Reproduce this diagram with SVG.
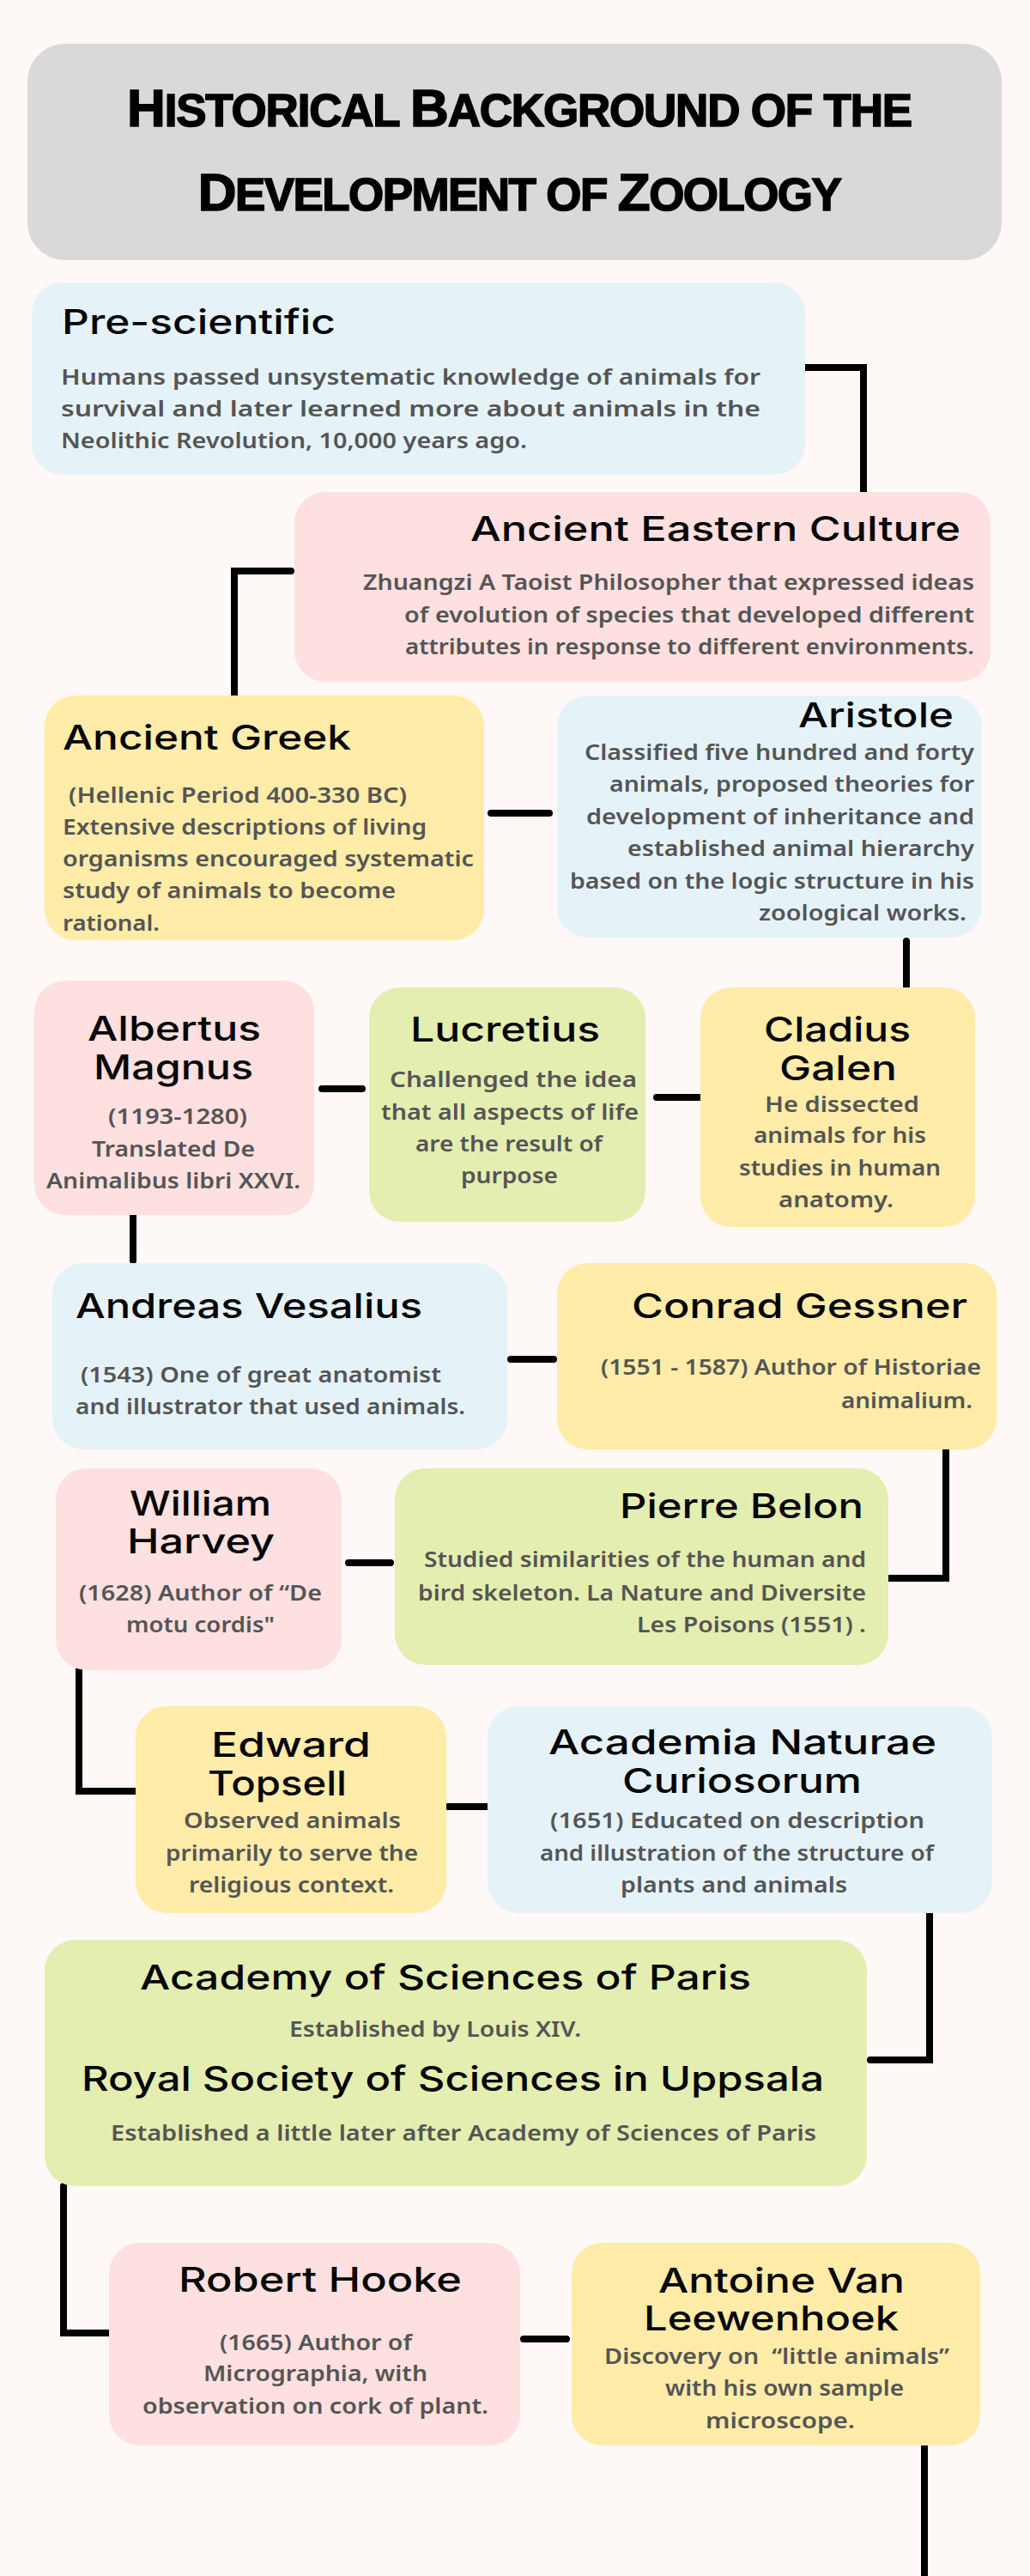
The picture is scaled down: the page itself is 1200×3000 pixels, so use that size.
<svg xmlns="http://www.w3.org/2000/svg" width="1200" height="3000" viewBox="0 0 1200 3000">
<style>
.bg{fill:#fef8f7}
.blue{fill:#e5f3f9}
.pink{fill:#fde0df}
.yellow{fill:#feeca8}
.green{fill:#e4eeb0}
.title{font-family:"Liberation Sans",Arial,sans-serif;font-weight:bold;font-size:62px;fill:#000;stroke:#000;stroke-width:1.6px;text-anchor:middle}
.sc{font-size:53px;text-transform:uppercase}
.h{font-family:Inter,"Noto Sans",sans-serif;font-weight:500;font-size:40px;fill:#050505}
.b{font-family:"Noto Sans","Open Sans",sans-serif;font-weight:600;font-size:26px;fill:#555555}
.conn path{fill:none;stroke:#000;stroke-width:8;stroke-linecap:round;stroke-linejoin:miter}
</style>
<rect class="bg" x="0" y="0" width="1200" height="3000"/>

<g id="connectors" class="conn">
<path d="M938,428 H1006 V573"/>
<path d="M339,665 H273 V810"/>
<path d="M572,947 H640"/>
<path d="M1056,1096 V1150"/>
<path d="M375,1268 H422"/>
<path d="M765,1278 H815"/>
<path d="M155,1415 V1468"/>
<path d="M595,1583 H645"/>
<path d="M1102,1688 V1838 H1035"/>
<path d="M406,1820 H455"/>
<path d="M92,1945 V2086 H159"/>
<path d="M522,2104 H570"/>
<path d="M1083,2228 V2399 H1014"/>
<path d="M74,2546 V2717 H129"/>
<path d="M610,2724 H660"/>
<path d="M1077,2848 V3004"/>
</g>

<g id="title">
<rect x="32" y="51" width="1135" height="252" rx="44" fill="#d9d9d9"/>
<text class="title" x="605" y="147" letter-spacing="-1.2"><tspan>H</tspan><tspan class="sc">istorical </tspan><tspan>B</tspan><tspan class="sc">ackground of the</tspan></text>
<text class="title" x="605" y="245" letter-spacing="-1.6"><tspan>D</tspan><tspan class="sc">evelopment of </tspan><tspan>Z</tspan><tspan class="sc">oology</tspan></text>
</g>

<g id="pre-scientific">
<rect class="blue" x="37" y="329" width="901" height="224" rx="36"/>
<text class="h" x="72" y="389" textLength="319" lengthAdjust="spacingAndGlyphs">Pre-scientific</text>
<text class="b" x="71" y="448" textLength="815" lengthAdjust="spacingAndGlyphs">Humans passed unsystematic knowledge of animals for</text>
<text class="b" x="71" y="485" textLength="815" lengthAdjust="spacingAndGlyphs">survival and later learned more about animals in the</text>
<text class="b" x="71" y="522" textLength="543" lengthAdjust="spacingAndGlyphs">Neolithic Revolution, 10,000 years ago.</text>
</g>

<g id="ancient-eastern">
<rect class="pink" x="343" y="573" width="811" height="221" rx="36"/>
<text class="h" x="548" y="630" textLength="571" lengthAdjust="spacingAndGlyphs">Ancient Eastern Culture</text>
<text class="b" x="423" y="687" textLength="712" lengthAdjust="spacingAndGlyphs">Zhuangzi A Taoist Philosopher that expressed ideas</text>
<text class="b" x="471" y="725" textLength="664" lengthAdjust="spacingAndGlyphs">of evolution of species that developed different</text>
<text class="b" x="472" y="762" textLength="663" lengthAdjust="spacingAndGlyphs">attributes in response to different environments.</text>
</g>

<g id="ancient-greek">
<rect class="yellow" x="52" y="810" width="512" height="285" rx="36"/>
<text class="h" x="73" y="873" textLength="336" lengthAdjust="spacingAndGlyphs">Ancient Greek</text>
<text class="b" x="80" y="935" textLength="394" lengthAdjust="spacingAndGlyphs">(Hellenic Period 400-330 BC)</text>
<text class="b" x="73" y="972" textLength="424" lengthAdjust="spacingAndGlyphs">Extensive descriptions of living</text>
<text class="b" x="73" y="1009" textLength="479" lengthAdjust="spacingAndGlyphs">organisms encouraged systematic</text>
<text class="b" x="73" y="1046" textLength="388" lengthAdjust="spacingAndGlyphs">study of animals to become</text>
<text class="b" x="73" y="1084" textLength="113" lengthAdjust="spacingAndGlyphs">rational.</text>
</g>

<g id="aristole">
<rect class="blue" x="649" y="810" width="495" height="282" rx="36"/>
<text class="h" x="930" y="847" textLength="181" lengthAdjust="spacingAndGlyphs">Aristole</text>
<text class="b" x="681" y="885" textLength="454" lengthAdjust="spacingAndGlyphs">Classified five hundred and forty</text>
<text class="b" x="710" y="922" textLength="425" lengthAdjust="spacingAndGlyphs">animals, proposed theories for</text>
<text class="b" x="683" y="960" textLength="452" lengthAdjust="spacingAndGlyphs">development of inheritance and</text>
<text class="b" x="731" y="997" textLength="404" lengthAdjust="spacingAndGlyphs">established animal hierarchy</text>
<text class="b" x="664" y="1035" textLength="471" lengthAdjust="spacingAndGlyphs">based on the logic structure in his</text>
<text class="b" x="884" y="1072" textLength="242" lengthAdjust="spacingAndGlyphs">zoological works.</text>
</g>

<g id="albertus-magnus">
<rect class="pink" x="40" y="1142" width="326" height="273" rx="36"/>
<text class="h" x="102" y="1212" textLength="202" lengthAdjust="spacingAndGlyphs">Albertus</text>
<text class="h" x="109" y="1257" textLength="186" lengthAdjust="spacingAndGlyphs">Magnus</text>
<text class="b" x="126" y="1309" textLength="162" lengthAdjust="spacingAndGlyphs">(1193-1280)</text>
<text class="b" x="107" y="1347" textLength="190" lengthAdjust="spacingAndGlyphs">Translated De</text>
<text class="b" x="54" y="1384" textLength="296" lengthAdjust="spacingAndGlyphs">Animalibus libri XXVI.</text>
</g>

<g id="lucretius">
<rect class="green" x="430" y="1150" width="322" height="273" rx="36"/>
<text class="h" x="478" y="1213" textLength="221" lengthAdjust="spacingAndGlyphs">Lucretius</text>
<text class="b" x="454" y="1266" textLength="288" lengthAdjust="spacingAndGlyphs">Challenged the idea</text>
<text class="b" x="444" y="1304" textLength="300" lengthAdjust="spacingAndGlyphs">that all aspects of life</text>
<text class="b" x="484" y="1341" textLength="218" lengthAdjust="spacingAndGlyphs">are the result of</text>
<text class="b" x="537" y="1378" textLength="113" lengthAdjust="spacingAndGlyphs">purpose</text>
</g>

<g id="cladius-galen">
<rect class="yellow" x="816" y="1150" width="320" height="279" rx="36"/>
<text class="h" x="890" y="1213" textLength="171" lengthAdjust="spacingAndGlyphs">Cladius</text>
<text class="h" x="908" y="1258" textLength="137" lengthAdjust="spacingAndGlyphs">Galen</text>
<text class="b" x="891" y="1295" textLength="180" lengthAdjust="spacingAndGlyphs">He dissected</text>
<text class="b" x="878" y="1331" textLength="201" lengthAdjust="spacingAndGlyphs">animals for his</text>
<text class="b" x="861" y="1369" textLength="235" lengthAdjust="spacingAndGlyphs">studies in human</text>
<text class="b" x="907" y="1406" textLength="134" lengthAdjust="spacingAndGlyphs">anatomy.</text>
</g>

<g id="andreas-vesalius">
<rect class="blue" x="61" y="1471" width="530" height="217" rx="36"/>
<text class="h" x="88" y="1535" textLength="404" lengthAdjust="spacingAndGlyphs">Andreas Vesalius</text>
<text class="b" x="94" y="1610" textLength="420" lengthAdjust="spacingAndGlyphs">(1543) One of great anatomist</text>
<text class="b" x="88" y="1647" textLength="454" lengthAdjust="spacingAndGlyphs">and illustrator that used animals.</text>
</g>

<g id="conrad-gessner">
<rect class="yellow" x="649" y="1471" width="512" height="217" rx="36"/>
<text class="h" x="736" y="1535" textLength="391" lengthAdjust="spacingAndGlyphs">Conrad Gessner</text>
<text class="b" x="700" y="1601" textLength="443" lengthAdjust="spacingAndGlyphs">(1551 - 1587) Author of Historiae</text>
<text class="b" x="980" y="1640" textLength="153" lengthAdjust="spacingAndGlyphs">animalium.</text>
</g>

<g id="william-harvey">
<rect class="pink" x="65" y="1710" width="333" height="235" rx="36"/>
<text class="h" x="151" y="1765" textLength="165" lengthAdjust="spacingAndGlyphs">William</text>
<text class="h" x="148" y="1809" textLength="172" lengthAdjust="spacingAndGlyphs">Harvey</text>
<text class="b" x="92" y="1864" textLength="283" lengthAdjust="spacingAndGlyphs">(1628) Author of “De</text>
<text class="b" x="147" y="1901" textLength="173" lengthAdjust="spacingAndGlyphs">motu cordis"</text>
</g>

<g id="pierre-belon">
<rect class="green" x="460" y="1710" width="575" height="229" rx="36"/>
<text class="h" x="722" y="1768" textLength="284" lengthAdjust="spacingAndGlyphs">Pierre Belon</text>
<text class="b" x="494" y="1825" textLength="515" lengthAdjust="spacingAndGlyphs">Studied similarities of the human and</text>
<text class="b" x="487" y="1864" textLength="522" lengthAdjust="spacingAndGlyphs">bird skeleton. La Nature and Diversite</text>
<text class="b" x="742" y="1901" textLength="267" lengthAdjust="spacingAndGlyphs">Les Poisons (1551) .</text>
</g>

<g id="edward-topsell">
<rect class="yellow" x="158" y="1987" width="362" height="241" rx="36"/>
<text class="h" x="246" y="2046" textLength="186" lengthAdjust="spacingAndGlyphs">Edward</text>
<text class="h" x="242" y="2091" textLength="162" lengthAdjust="spacingAndGlyphs">Topsell</text>
<text class="b" x="214" y="2129" textLength="253" lengthAdjust="spacingAndGlyphs">Observed animals</text>
<text class="b" x="193" y="2167" textLength="294" lengthAdjust="spacingAndGlyphs">primarily to serve the</text>
<text class="b" x="220" y="2204" textLength="239" lengthAdjust="spacingAndGlyphs">religious context.</text>
</g>

<g id="academia-naturae">
<rect class="blue" x="568" y="1987" width="588" height="241" rx="36"/>
<text class="h" x="639" y="2043" textLength="452" lengthAdjust="spacingAndGlyphs">Academia Naturae</text>
<text class="h" x="725" y="2088" textLength="279" lengthAdjust="spacingAndGlyphs">Curiosorum</text>
<text class="b" x="641" y="2129" textLength="436" lengthAdjust="spacingAndGlyphs">(1651) Educated on description</text>
<text class="b" x="629" y="2167" textLength="459" lengthAdjust="spacingAndGlyphs">and illustration of the structure of</text>
<text class="b" x="723" y="2204" textLength="264" lengthAdjust="spacingAndGlyphs">plants and animals</text>
</g>

<g id="academies">
<rect class="green" x="52" y="2259" width="958" height="287" rx="36"/>
<text class="h" x="163" y="2317" textLength="712" lengthAdjust="spacingAndGlyphs">Academy of Sciences of Paris</text>
<text class="b" x="337" y="2372" textLength="340" lengthAdjust="spacingAndGlyphs">Established by Louis XIV.</text>
<text class="h" x="95" y="2435" textLength="865" lengthAdjust="spacingAndGlyphs">Royal Society of Sciences in Uppsala</text>
<text class="b" x="129" y="2493" textLength="822" lengthAdjust="spacingAndGlyphs">Established a little later after Academy of Sciences of Paris</text>
</g>

<g id="robert-hooke">
<rect class="pink" x="127" y="2612" width="479" height="236" rx="36"/>
<text class="h" x="208" y="2669" textLength="330" lengthAdjust="spacingAndGlyphs">Robert Hooke</text>
<text class="b" x="256" y="2737" textLength="224" lengthAdjust="spacingAndGlyphs">(1665) Author of</text>
<text class="b" x="237" y="2773" textLength="261" lengthAdjust="spacingAndGlyphs">Micrographia, with</text>
<text class="b" x="166" y="2811" textLength="403" lengthAdjust="spacingAndGlyphs">observation on cork of plant.</text>
</g>

<g id="antoine-van-leewenhoek">
<rect class="yellow" x="666" y="2612" width="476" height="236" rx="36"/>
<text class="h" x="767" y="2670" textLength="287" lengthAdjust="spacingAndGlyphs">Antoine Van</text>
<text class="h" x="750" y="2714" textLength="297" lengthAdjust="spacingAndGlyphs">Leewenhoek</text>
<text class="b" x="704" y="2753" textLength="402" lengthAdjust="spacingAndGlyphs" xml:space="preserve">Discovery on  “little animals”</text>
<text class="b" x="775" y="2790" textLength="278" lengthAdjust="spacingAndGlyphs">with his own sample</text>
<text class="b" x="822" y="2828" textLength="174" lengthAdjust="spacingAndGlyphs">microscope.</text>
</g>
</svg>
